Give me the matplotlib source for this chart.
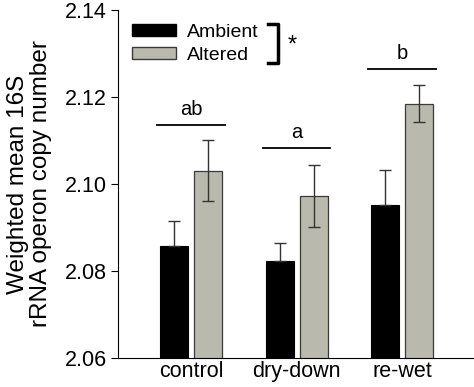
import numpy as np
import matplotlib.pyplot as plt
from matplotlib.patches import Patch

plt.rcParams['font.family'] = ['Liberation Sans', 'DejaVu Sans']

# data
groups = ['control', 'dry-down', 're-wet']
ambient = [2.0858, 2.0824, 2.0952]
ambient_err = [0.0058, 0.0040, 0.0080]
altered = [2.1031, 2.0973, 2.1185]
altered_err = [0.0070, 0.0071, 0.0043]
letters = ['ab', 'a', 'b']
letter_y = [2.1136, 2.1083, 2.1264]

fig = plt.figure(figsize=(4.74, 3.87), dpi=100)
ax = fig.add_axes([0.249, 0.075, 0.749, 0.899])

x = np.arange(len(groups))
w = 0.265
off = 0.161

ax.bar(x - off, ambient, w, color='black', edgecolor='black', linewidth=0.8)
ax.errorbar(x - off, ambient, yerr=[np.zeros(3), ambient_err], fmt='none',
            ecolor='#333333', elinewidth=1, capsize=4.5, capthick=1)
ax.bar(x + off, altered, w, color='#b9baad', edgecolor='#3a3a3a', linewidth=0.9)
ax.errorbar(x + off, altered, yerr=altered_err, fmt='none',
            ecolor='#333333', elinewidth=1, capsize=4.5, capthick=1)

# significance letters
for i in range(len(groups)):
    ax.plot([x[i] - 0.32, x[i] + 0.32], [letter_y[i], letter_y[i]], color='black', lw=1.3)
    ax.text(x[i], letter_y[i] + 0.0014, letters[i], ha='center', va='bottom', fontsize=14.5)

ax.set_ylim(2.06, 2.14)
ax.set_xlim(-0.69, 2.67)
ax.set_yticks([2.06, 2.08, 2.10, 2.12, 2.14])
ax.set_yticklabels(['2.06', '2.08', '2.10', '2.12', '2.14'])
ax.set_xticks(x)
ax.set_xticklabels(groups)
ax.tick_params(axis='x', length=0, labelsize=15.5, pad=2)
ax.tick_params(axis='y', length=5, labelsize=15.5, direction='out', pad=3)
ax.spines['top'].set_visible(False)
ax.spines['right'].set_visible(False)
ax.set_ylabel('Weighted mean 16S\nrRNA operon copy number', fontsize=17.5,
              labelpad=9, linespacing=1.08)

handles = [Patch(facecolor='black', edgecolor='black'),
           Patch(facecolor='#b9baad', edgecolor='#3a3a3a')]
ax.legend(handles, ['Ambient', 'Altered'], loc='upper left', bbox_to_anchor=(0.038, 0.96),
          frameon=False, fontsize=14, handlelength=2.3, handleheight=0.55,
          handletextpad=0.55, labelspacing=0.3, borderaxespad=0, borderpad=0)

# bracket and asterisk
fig.add_artist(plt.Line2D([268 / 474, 278 / 474, 278 / 474, 268 / 474],
                          [1 - 24 / 387, 1 - 24 / 387, 1 - 63 / 387, 1 - 63 / 387],
                          color='black', lw=2.5, transform=fig.transFigure))
fig.text(292 / 474, 1 - 46 / 387, '*', fontsize=17, ha='center', va='center')

fig.savefig('out.png', dpi=100)
